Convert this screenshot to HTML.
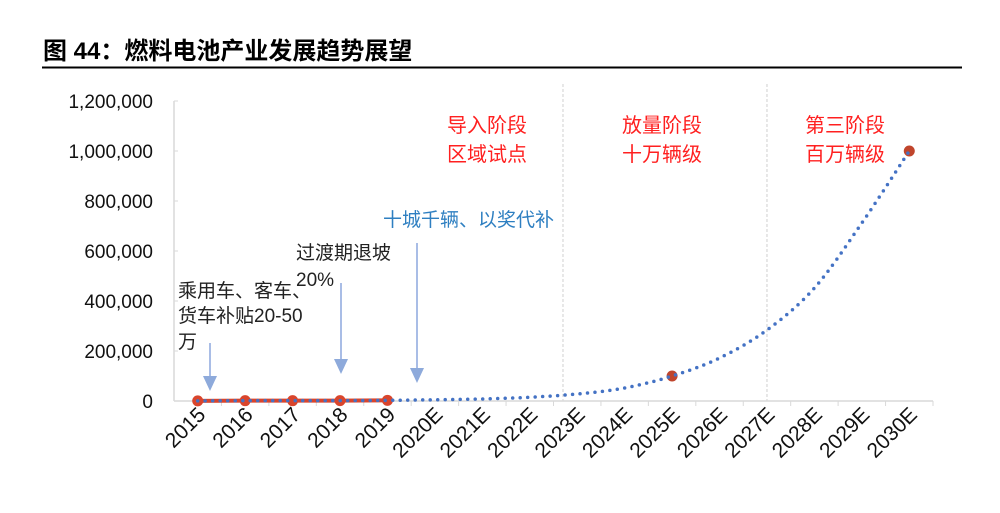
<!DOCTYPE html>
<html><head><meta charset="utf-8">
<style>
body{margin:0;background:#fff;}
svg text{font-family:"Liberation Sans","Noto Sans CJK SC",sans-serif;}
</style></head>
<body>
<svg id="chart" width="1000" height="508" viewBox="0 0 1000 508" xmlns="http://www.w3.org/2000/svg">
<text x="43" y="59" font-size="24" font-weight="bold" fill="#000">图 44：燃料电池产业发展趋势展望</text>
<line x1="42" y1="67.5" x2="962" y2="67.5" stroke="#000" stroke-width="2"/>
<g id="grid"></g><g id="axes"></g><g id="series"></g>
<g font-size="20">
<text x="487" y="132" text-anchor="middle" fill="#ff2020">导入阶段</text>
<text x="487" y="161" text-anchor="middle" fill="#ff2020">区域试点</text>
<text x="662" y="132" text-anchor="middle" fill="#ff2020">放量阶段</text>
<text x="662" y="161" text-anchor="middle" fill="#ff2020">十万辆级</text>
<text x="845" y="132" text-anchor="middle" fill="#ff2020">第三阶段</text>
<text x="845" y="161" text-anchor="middle" fill="#ff2020">百万辆级</text>
<text x="383" y="226" font-size="19" fill="#2e7fc1">十城千辆、以奖代补</text>
<text x="296" y="259" font-size="19" fill="#222">过渡期退坡</text>
<text x="296" y="286" font-size="19" fill="#222">20%</text>
<text x="178" y="297" font-size="19" fill="#222">乘用车、客车、</text>
<text x="178" y="322" font-size="19" fill="#222">货车补贴20-50</text>
<text x="178" y="348" font-size="19" fill="#222">万</text>
</g>
<g stroke="#a9bde6" stroke-width="2" fill="#8eaadb">
<line x1="210" y1="343" x2="210" y2="377"/>
<polygon points="203,376 217,376 210,391" stroke="none"/>
<line x1="341" y1="283" x2="341" y2="360"/>
<polygon points="334,359 348,359 341,374" stroke="none"/>
<line x1="417" y1="243" x2="417" y2="369"/>
<polygon points="410,368 424,368 417,383" stroke="none"/>
</g>
</svg>
<script>
const categories=["2015","2016","2017","2018","2019","2020E","2021E","2022E","2023E","2024E","2025E","2026E","2027E","2028E","2029E","2030E"];
const actualValues=[629,1272,1275,1527,2737];
const forecastValues=[629,1272,1275,1527,2737,5000,8000,15000,28000,52000,100000,172000,284000,452000,712000,1000000];
const forecastMarkers=[10,15];
const yTicks=[0,200000,400000,600000,800000,1000000,1200000];
const yTickLabels=["0","200,000","400,000","600,000","800,000","1,000,000","1,200,000"];
const stageDividers=[7.7,12];

const NS="http://www.w3.org/2000/svg";
const X0=174,X1=933,Y0=401,YT=101,YMAX=1200000;
const step=(X1-X0)/categories.length;
function xc(i){return X0+step*(i+0.5);}
function yv(v){return Y0-(v/YMAX)*(Y0-YT);}
function mk(tag,attrs,parent){const e=document.createElementNS(NS,tag);for(const k in attrs)e.setAttribute(k,attrs[k]);parent.appendChild(e);return e;}
const grid=document.getElementById('grid'),axes=document.getElementById('axes'),series=document.getElementById('series');

stageDividers.forEach((d,i)=>{
 const l=mk('line',{x1:xc(d),x2:xc(d),y1:84,y2:Y0,stroke:'#d0d0d0','stroke-width':1,'stroke-dasharray':'3 2'},grid);
 
 
});
const ya=mk('line',{x1:X0,x2:X0,y1:YT,y2:Y0,stroke:'#d9d9d9','stroke-width':1.5},axes);


const xa=mk('line',{x1:X0,x2:X1,y1:Y0,y2:Y0,stroke:'#d9d9d9','stroke-width':1.5},axes);


yTicks.forEach((v,i)=>{
 const y=yv(v);
 const t=mk('line',{x1:X0,x2:X0+4,y1:y,y2:y,stroke:'#d9d9d9','stroke-width':1},axes);
 
 
 const tx=mk('text',{x:153,y:y+7,'text-anchor':'end','font-size':19,fill:'#111'},axes);
 tx.textContent=yTickLabels[i];
 
 
});
for(let k=1;k<=categories.length;k++){
 const x=X0+step*k;
 const t=mk('line',{x1:x,x2:x,y1:Y0,y2:Y0+5,stroke:'#d9d9d9','stroke-width':1},axes);
 
 
}
categories.forEach((c,i)=>{
 const x=xc(i)+9,y=416;
 const tx=mk('text',{x:x,y:y,'text-anchor':'end','font-size':21,fill:'#111',transform:`rotate(-45 ${x} ${y})`},axes);
 tx.textContent=c;
 
 
});
const rp=actualValues.map((v,i)=>(i?'L':'M')+xc(i)+','+yv(v)).join(' ');
const red=mk('path',{d:rp,fill:'none',stroke:'#d9452c','stroke-width':4},series);


actualValues.forEach((v,i)=>{
 const c=mk('circle',{cx:xc(i),cy:yv(v),r:5.5,fill:'#d9452c'},series);
 
 
});
forecastMarkers.forEach(i=>{
 const c=mk('circle',{cx:xc(i),cy:yv(forecastValues[i]),r:5.5,fill:'#c0452c'},series);
 
 
});
const pts=forecastValues.map((v,i)=>[xc(i),yv(v)]);
let d='M'+pts[0][0]+','+pts[0][1];
for(let i=0;i<pts.length-1;i++){
 const p0=pts[Math.max(0,i-1)],p1=pts[i],p2=pts[i+1],p3=pts[Math.min(pts.length-1,i+2)];
 const c1=[p1[0]+(p2[0]-p0[0])/6,p1[1]+(p2[1]-p0[1])/6];
 const c2=[p2[0]-(p3[0]-p1[0])/6,p2[1]-(p3[1]-p1[1])/6];
 d+=` C${c1[0]},${c1[1]} ${c2[0]},${c2[1]} ${p2[0]},${p2[1]}`;
}
const blue=mk('path',{d:d,fill:'none',stroke:'#4472c4','stroke-width':3.5,'stroke-linecap':'round','stroke-dasharray':'0 7.5'},series);


</script>
</body></html>
